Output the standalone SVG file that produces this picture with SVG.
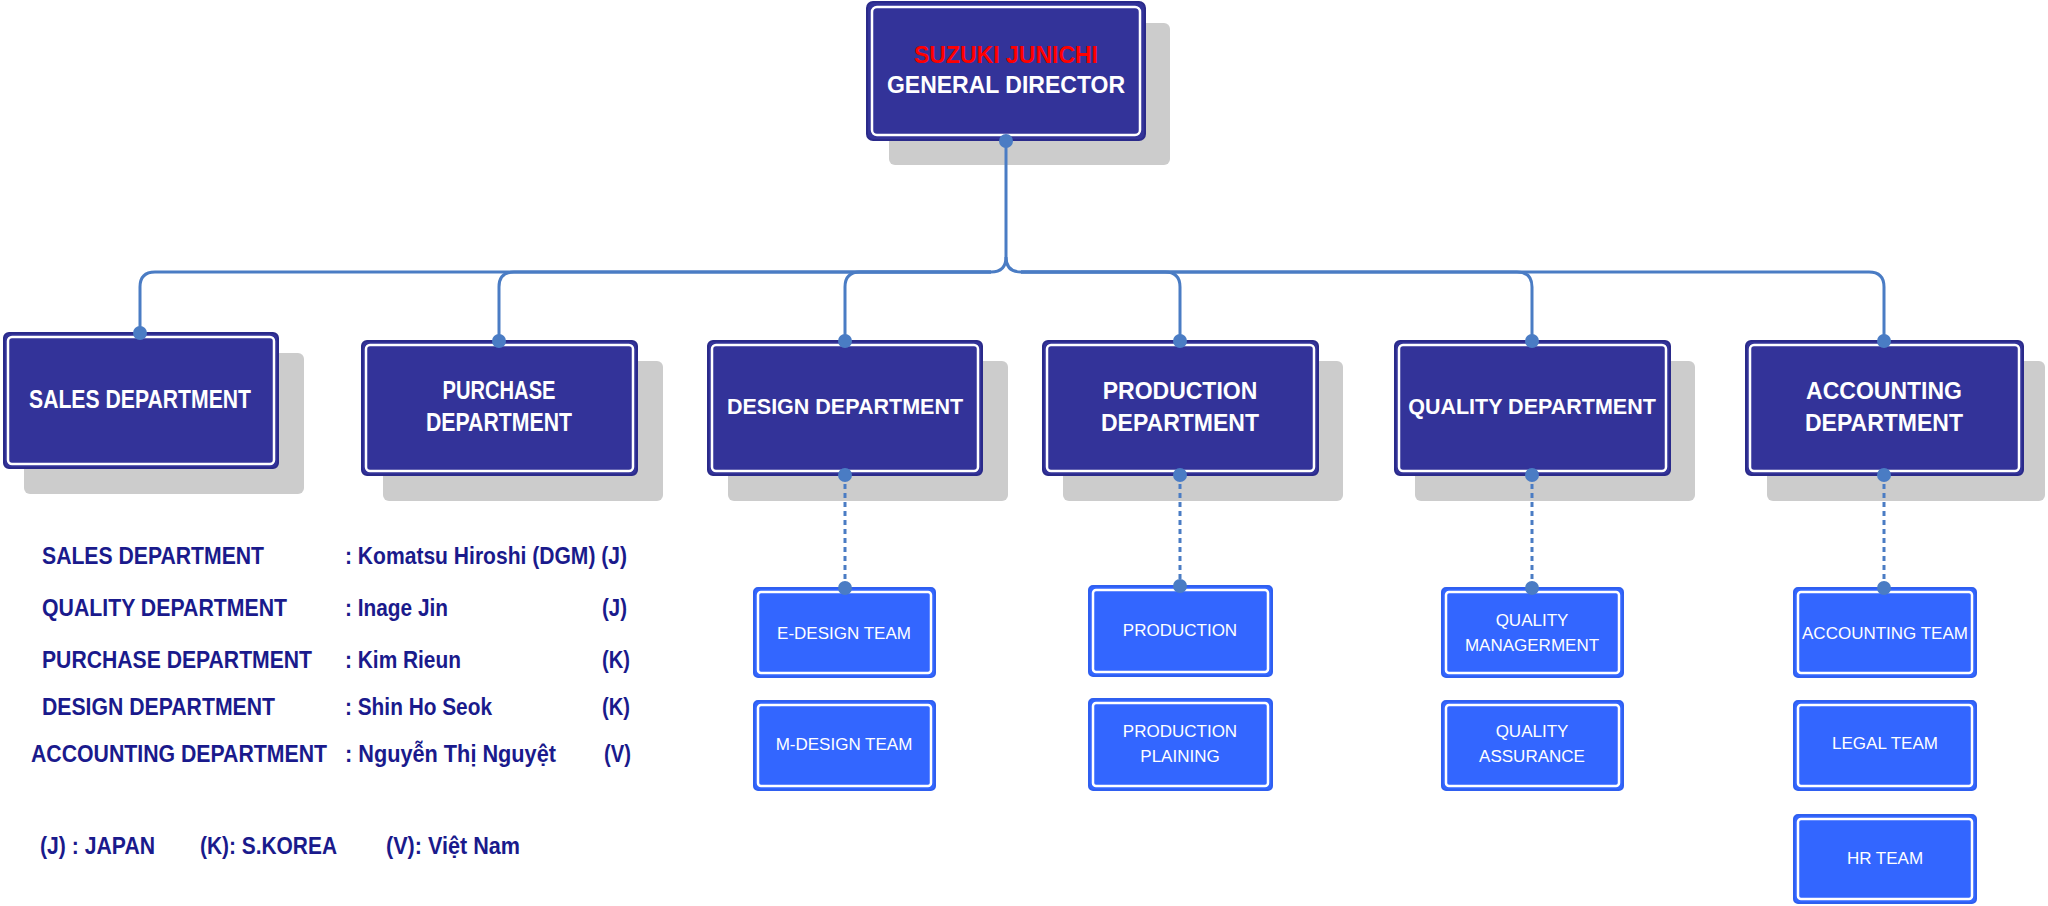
<svg xmlns="http://www.w3.org/2000/svg" width="2048" height="906" viewBox="0 0 2048 906">
<style>
.sh{fill:#cccccc}
.dept{fill:#333399;stroke:#2a2a8a;stroke-width:2}
.inner{fill:none;stroke:#ffffff;stroke-width:2.5}
.team{fill:#3366ff;stroke:#2f5ff0;stroke-width:2}
.dt{font-family:"Liberation Sans",Arial,sans-serif;font-weight:bold;font-size:23px;fill:#fff;text-anchor:middle}
.d1{font-size:21.5px}
.tt{font-family:"Liberation Sans",Arial,sans-serif;font-size:17px;fill:#fff;text-anchor:middle}
.lg{font-family:"Liberation Sans",Arial,sans-serif;font-weight:bold;font-size:24px;fill:#1a1a8c}
.ln{fill:none;stroke:#4a7cc4;stroke-width:3}
.dl{fill:none;stroke:#4a7cc4;stroke-width:3;stroke-dasharray:5,4}
.dot{fill:#4a7cc4}
</style>
<rect width="2048" height="906" fill="#fff"/>
<g id="gd">
<rect class="sh" x="889" y="23" width="281" height="142" rx="6"/>
<rect class="dept" x="867" y="2" width="278" height="138" rx="6"/>
<rect class="inner" x="872" y="7" width="268" height="128" rx="5"/>
<text class="dt" x="1006" y="63" style="fill:#ff0000">SUZUKI JUNICHI</text>
<text class="dt" x="1006" y="93">GENERAL DIRECTOR</text>
</g>
<g id="sales">
<rect class="sh" x="24" y="353" width="280" height="141" rx="6"/>
<rect class="dept" x="4" y="333" width="274" height="135" rx="5"/>
<rect class="inner" x="8" y="337" width="266" height="127" rx="4"/>
<text class="dt" x="140" y="408" textLength="222" lengthAdjust="spacingAndGlyphs" style="font-size:25px">SALES DEPARTMENT</text>
</g>
<g id="purchase">
<rect class="sh" x="383" y="361" width="280" height="140" rx="6"/>
<rect class="dept" x="362" y="341" width="275" height="134" rx="5"/>
<rect class="inner" x="366" y="345" width="267" height="126" rx="4"/>
<text class="dt" x="499" y="399" textLength="113" lengthAdjust="spacingAndGlyphs" style="font-size:25px">PURCHASE</text>
<text class="dt" x="499" y="431" textLength="146" lengthAdjust="spacingAndGlyphs" style="font-size:25px">DEPARTMENT</text>
</g>
<g id="design">
<rect class="sh" x="728" y="361" width="280" height="140" rx="6"/>
<rect class="dept" x="708" y="341" width="274" height="134" rx="5"/>
<rect class="inner" x="712" y="345" width="266" height="126" rx="4"/>
<text class="dt d1" x="845" y="414">DESIGN DEPARTMENT</text>
</g>
<g id="production">
<rect class="sh" x="1063" y="361" width="280" height="140" rx="6"/>
<rect class="dept" x="1043" y="341" width="275" height="134" rx="5"/>
<rect class="inner" x="1047" y="345" width="267" height="126" rx="4"/>
<text class="dt" x="1180" y="399">PRODUCTION</text>
<text class="dt" x="1180" y="431">DEPARTMENT</text>
</g>
<g id="quality">
<rect class="sh" x="1415" y="361" width="280" height="140" rx="6"/>
<rect class="dept" x="1395" y="341" width="275" height="134" rx="5"/>
<rect class="inner" x="1399" y="345" width="267" height="126" rx="4"/>
<text class="dt d1" x="1532" y="414">QUALITY DEPARTMENT</text>
</g>
<g id="accounting">
<rect class="sh" x="1767" y="361" width="278" height="140" rx="6"/>
<rect class="dept" x="1746" y="341" width="277" height="134" rx="5"/>
<rect class="inner" x="1750" y="345" width="269" height="126" rx="4"/>
<text class="dt" x="1884" y="399">ACCOUNTING</text>
<text class="dt" x="1884" y="431">DEPARTMENT</text>
</g>
<g id="teams">
<g id="edesign"><rect class="team" x="754" y="588" width="181" height="89" rx="4"/><rect class="inner" x="758" y="592" width="173" height="81" rx="3"/><text class="tt" x="844" y="639">E-DESIGN TEAM</text></g>
<g id="mdesign"><rect class="team" x="754" y="701" width="181" height="89" rx="4"/><rect class="inner" x="758" y="705" width="173" height="81" rx="3"/><text class="tt" x="844" y="750">M-DESIGN TEAM</text></g>
<g id="prod"><rect class="team" x="1089" y="586" width="183" height="90" rx="4"/><rect class="inner" x="1093" y="590" width="175" height="82" rx="3"/><text class="tt" x="1180" y="636">PRODUCTION</text></g>
<g id="prodplan"><rect class="team" x="1089" y="699" width="183" height="91" rx="4"/><rect class="inner" x="1093" y="703" width="175" height="83" rx="3"/><text class="tt" x="1180" y="737">PRODUCTION</text><text class="tt" x="1180" y="762">PLAINING</text></g>
<g id="qm"><rect class="team" x="1442" y="588" width="181" height="89" rx="4"/><rect class="inner" x="1446" y="592" width="173" height="81" rx="3"/><text class="tt" x="1532" y="626">QUALITY</text><text class="tt" x="1532" y="651">MANAGERMENT</text></g>
<g id="qa"><rect class="team" x="1442" y="701" width="181" height="89" rx="4"/><rect class="inner" x="1446" y="705" width="173" height="81" rx="3"/><text class="tt" x="1532" y="737">QUALITY</text><text class="tt" x="1532" y="762">ASSURANCE</text></g>
<g id="acct"><rect class="team" x="1794" y="588" width="182" height="89" rx="4"/><rect class="inner" x="1798" y="592" width="174" height="81" rx="3"/><text class="tt" x="1885" y="639">ACCOUNTING TEAM</text></g>
<g id="legal"><rect class="team" x="1794" y="701" width="182" height="89" rx="4"/><rect class="inner" x="1798" y="705" width="174" height="81" rx="3"/><text class="tt" x="1885" y="749">LEGAL TEAM</text></g>
<g id="hr"><rect class="team" x="1794" y="815" width="182" height="88" rx="4"/><rect class="inner" x="1798" y="819" width="174" height="80" rx="3"/><text class="tt" x="1885" y="864">HR TEAM</text></g>
</g>
<g id="connectors">
<path class="ln" d="M1006 141 V257 Q1006 272 991 272 H155 Q140 272 140 287 V333"/>
<path class="ln" d="M991 272 H514 Q499 272 499 287 V341"/>
<path class="ln" d="M991 272 H860 Q845 272 845 287 V341"/>
<path class="ln" d="M1006 257 Q1006 272 1021 272 H1165 Q1180 272 1180 287 V341"/>
<path class="ln" d="M1021 272 H1517 Q1532 272 1532 287 V341"/>
<path class="ln" d="M1021 272 H1869 Q1884 272 1884 287 V341"/>
<path class="dl" d="M845 475 V588"/>
<path class="dl" d="M1180 475 V586"/>
<path class="dl" d="M1532 475 V588"/>
<path class="dl" d="M1884 475 V588"/>
<circle class="dot" cx="1006" cy="141" r="7"/>
<circle class="dot" cx="140" cy="333" r="7"/>
<circle class="dot" cx="499" cy="341" r="7"/>
<circle class="dot" cx="845" cy="341" r="7"/>
<circle class="dot" cx="1180" cy="341" r="7"/>
<circle class="dot" cx="1532" cy="341" r="7"/>
<circle class="dot" cx="1884" cy="341" r="7"/>
<circle class="dot" cx="845" cy="475" r="7"/>
<circle class="dot" cx="1180" cy="475" r="7"/>
<circle class="dot" cx="1532" cy="475" r="7"/>
<circle class="dot" cx="1884" cy="475" r="7"/>
<circle class="dot" cx="845" cy="588" r="7"/>
<circle class="dot" cx="1180" cy="586" r="7"/>
<circle class="dot" cx="1532" cy="588" r="7"/>
<circle class="dot" cx="1884" cy="588" r="7"/>
</g>
<g id="legend">
<text class="lg" x="42" y="564" textLength="222" lengthAdjust="spacingAndGlyphs">SALES DEPARTMENT</text>
<text class="lg" x="345" y="564" textLength="282" lengthAdjust="spacingAndGlyphs">: Komatsu Hiroshi (DGM) (J)</text>
<text class="lg" x="42" y="616" textLength="245" lengthAdjust="spacingAndGlyphs">QUALITY DEPARTMENT</text>
<text class="lg" x="345" y="616" textLength="103" lengthAdjust="spacingAndGlyphs">: Inage Jin</text>
<text class="lg" x="602" y="616" textLength="25" lengthAdjust="spacingAndGlyphs">(J)</text>
<text class="lg" x="42" y="668" textLength="270" lengthAdjust="spacingAndGlyphs">PURCHASE DEPARTMENT</text>
<text class="lg" x="345" y="668" textLength="116" lengthAdjust="spacingAndGlyphs">: Kim Rieun</text>
<text class="lg" x="602" y="668" textLength="28" lengthAdjust="spacingAndGlyphs">(K)</text>
<text class="lg" x="42" y="715" textLength="233" lengthAdjust="spacingAndGlyphs">DESIGN DEPARTMENT</text>
<text class="lg" x="345" y="715" textLength="147" lengthAdjust="spacingAndGlyphs">: Shin Ho Seok</text>
<text class="lg" x="602" y="715" textLength="28" lengthAdjust="spacingAndGlyphs">(K)</text>
<text class="lg" x="31" y="762" textLength="296" lengthAdjust="spacingAndGlyphs">ACCOUNTING DEPARTMENT</text>
<text class="lg" x="345" y="762" textLength="211" lengthAdjust="spacingAndGlyphs">: Nguyễn Thị Nguyệt</text>
<text class="lg" x="604" y="762" textLength="27" lengthAdjust="spacingAndGlyphs">(V)</text>
<text class="lg" x="40" y="854" textLength="115" lengthAdjust="spacingAndGlyphs">(J) : JAPAN</text>
<text class="lg" x="200" y="854" textLength="137" lengthAdjust="spacingAndGlyphs">(K): S.KOREA</text>
<text class="lg" x="386" y="854" textLength="134" lengthAdjust="spacingAndGlyphs">(V): Việt Nam</text>
</g>
</svg>
